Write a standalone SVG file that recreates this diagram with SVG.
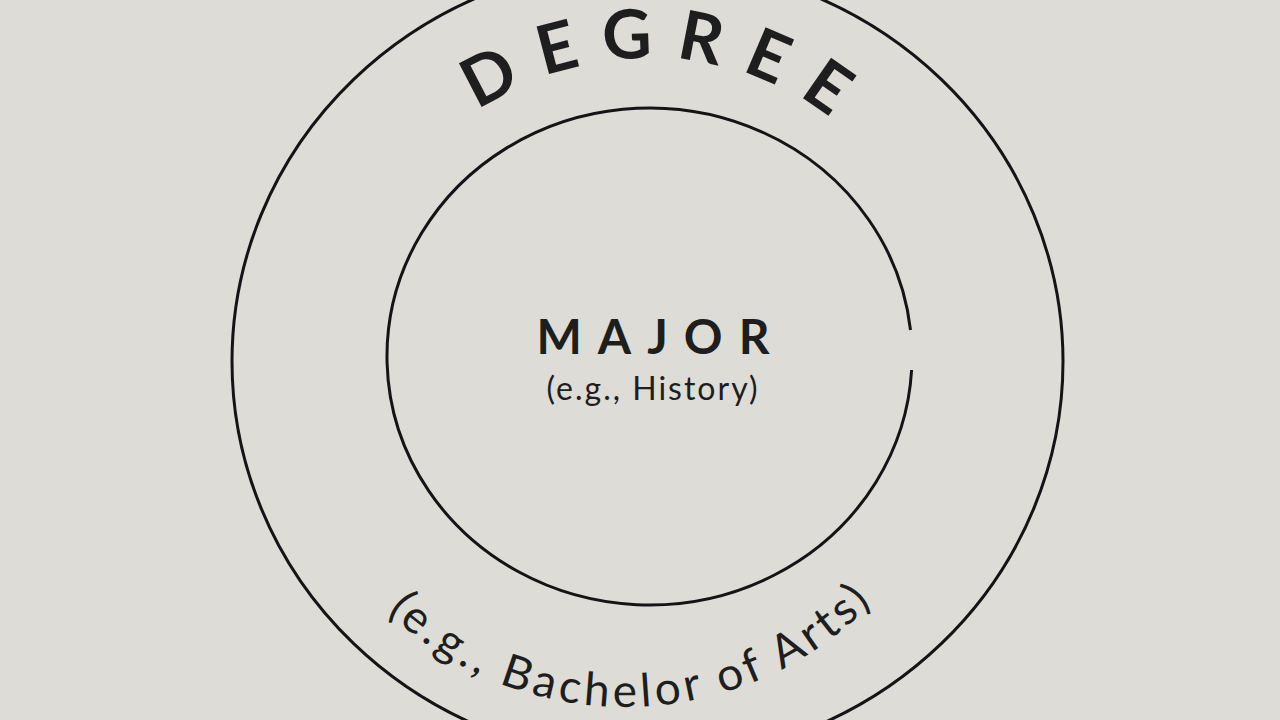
<svg xmlns="http://www.w3.org/2000/svg" width="1280" height="720" viewBox="0 0 1280 720">
  <style>
    .ring { fill: none; stroke: #141414; stroke-width: 3; }
    .lbl { fill: #1e1e1e; font-family: Lato, "Noto Sans", "DejaVu Sans", sans-serif; }
  </style>
  <defs>
    <path id="topArc" d="M 346 362 A 304 304 0 0 1 954 362"/>
    <path id="botArc" d="M 280 362 A 345 345 0 0 0 970 362"/>
  </defs>
  <rect width="1280" height="720" fill="#dddcd7"/>
  <g id="degree">
    <ellipse class="ring" cx="647.5" cy="361.5" rx="415.5" ry="399"/>
    <text class="lbl" font-size="68" font-weight="700" letter-spacing="23" text-anchor="middle"><textPath href="#topArc" startOffset="494">DEGREE</textPath></text>
    <text class="lbl" font-size="46" font-weight="400" letter-spacing="4.3" text-anchor="middle"><textPath href="#botArc" startOffset="550">(e.g., Bachelor of Arts)</textPath></text>
  </g>
  <g id="major">
    <path class="ring" d="M 910.5 330 A 262.5 248.5 0 1 0 911.6 370"/>
    <text class="lbl" x="653" y="354" font-size="48" font-weight="700" text-anchor="middle" textLength="233" lengthAdjust="spacing">MAJOR</text>
    <text class="lbl" x="652" y="400" font-size="32" font-weight="400" text-anchor="middle" textLength="211" lengthAdjust="spacing">(e.g., History)</text>
  </g>
  <g id="connectors"></g>
</svg>
